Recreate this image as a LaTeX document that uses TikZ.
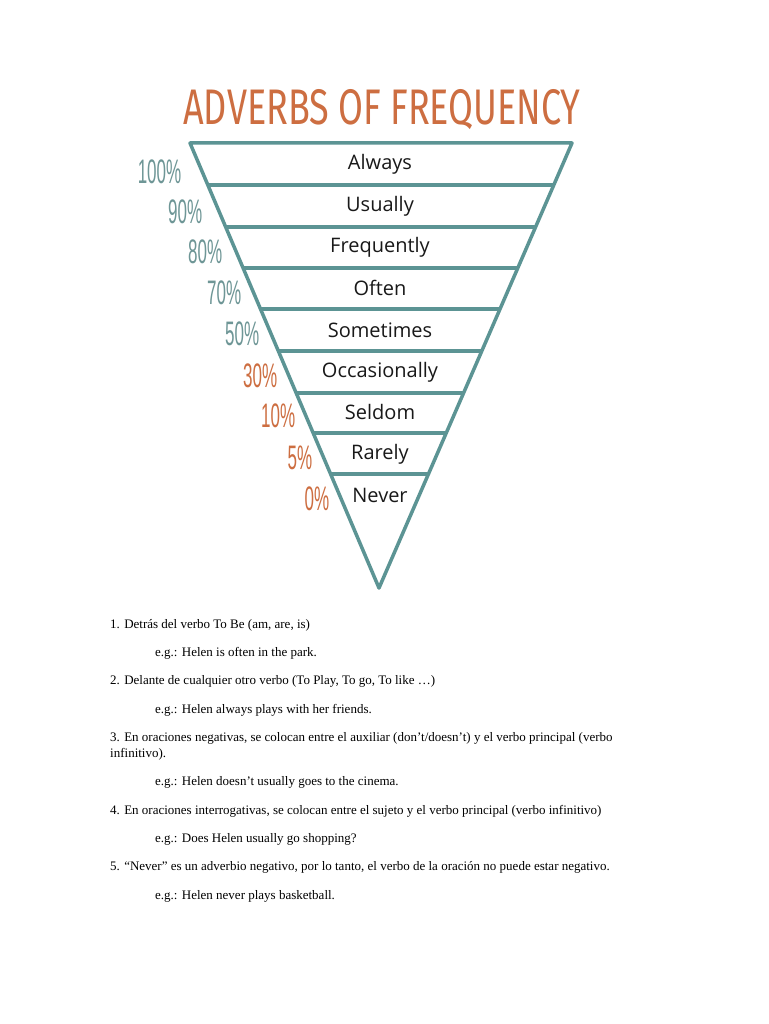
\documentclass[tikz,border=0pt]{standalone}
\usepackage{fontspec}
\setmainfont{Liberation Serif}
\newfontfamily\lblfont{Open Sans}
\newfontfamily\pctfont{Liberation Sans}
\newfontfamily\ttlfont{Fira Sans}
\definecolor{teal1}{RGB}{92,148,148}
\definecolor{org}{RGB}{205,110,65}
\definecolor{pctg}{RGB}{110,150,150}
\tikzset{
 lvl/.style={font=\lblfont\fontsize{20}{22}\selectfont, text=black!90},
 pct/.style={font=\pctfont\fontsize{34}{36}\selectfont, xscale=0.5, text=pctg, anchor=east},
 pcto/.style={pct, text=org},
 body/.style={font=\fontsize{13}{15}\selectfont, anchor=west, inner sep=0},
}
\begin{document}
\begin{tikzpicture}[x=1pt,y=-1pt]
\useasboundingbox[fill=white] (0,0) rectangle (768,1024);
\node[font=\ttlfont\fontsize{50}{52}\selectfont, xscale=0.72, text=org] (title) at (382,110) {ADVERBS OF FREQUENCY};
\coordinate (tl) at (190,143); \coordinate (tr) at (572,143); \coordinate (ap) at (379,588);
\draw[teal1, line width=3.5pt, line join=round] (tl) -- (tr) -- (ap) -- cycle;
\foreach \y in {185,227,268,309,351,393,433,474}{
  \pgfmathsetmacro\xl{190+0.42472*(\y-143)}
  \pgfmathsetmacro\xr{572-0.43371*(\y-143)}
  \draw[teal1, line width=3.5pt] (\xl,\y) -- (\xr,\y);
}
\node[lvl] (l1) at (380,164) {Always};
\node[lvl] (l2) at (380,206) {Usually};
\node[lvl] (l3) at (380,247) {Frequently};
\node[lvl] (l4) at (380,288) {Often};
\node[lvl] (l5) at (380,330) {Sometimes};
\node[lvl] (l6) at (380,372) {Occasionally};
\node[lvl] (l7) at (380,412) {Seldom};
\node[lvl] (l8) at (380,454) {Rarely};
\node[lvl] (l9) at (380,495) {Never};
\node[pct] (p1) at (183,172) {100\%};
\node[pct] (p2) at (204,212) {90\%};
\node[pct] (p3) at (224,252) {80\%};
\node[pct] (p4) at (243,293) {70\%};
\node[pct] (p5) at (261,334) {50\%};
\node[pcto] (p6) at (279,376) {30\%};
\node[pcto] (p7) at (297,416) {10\%};
\node[pcto] (p8) at (314,458) {5\%};
\node[pcto] (p9) at (331,499) {0\%};
\node[body] (t1) at (110,625) {1. Detrás del verbo To Be (am, are, is)};
\node[body] (t2) at (155,653) {e.g.: Helen is often in the park.};
\node[body] (t3) at (110,681) {2. Delante de cualquier otro verbo (To Play, To go, To like …)};
\node[body] (t4) at (155,710) {e.g.: Helen always plays with her friends.};
\node[body] (t5) at (110,738) {3. En oraciones negativas, se colocan entre el auxiliar (don’t/doesn’t) y el verbo principal (verbo};
\node[body] (t5b) at (110,754) {infinitivo).};
\node[body] (t6) at (155,782) {e.g.: Helen doesn’t usually goes to the cinema.};
\node[body] (t7) at (110,811) {4. En oraciones interrogativas, se colocan entre el sujeto y el verbo principal (verbo infinitivo)};
\node[body] (t8) at (155,839) {e.g.: Does Helen usually go shopping?};
\node[body] (t9) at (110,867) {5. “Never” es un adverbio negativo, por lo tanto, el verbo de la oración no puede estar negativo.};
\node[body] (t10) at (155,896) {e.g.: Helen never plays basketball.};
\end{tikzpicture}
\end{document}
